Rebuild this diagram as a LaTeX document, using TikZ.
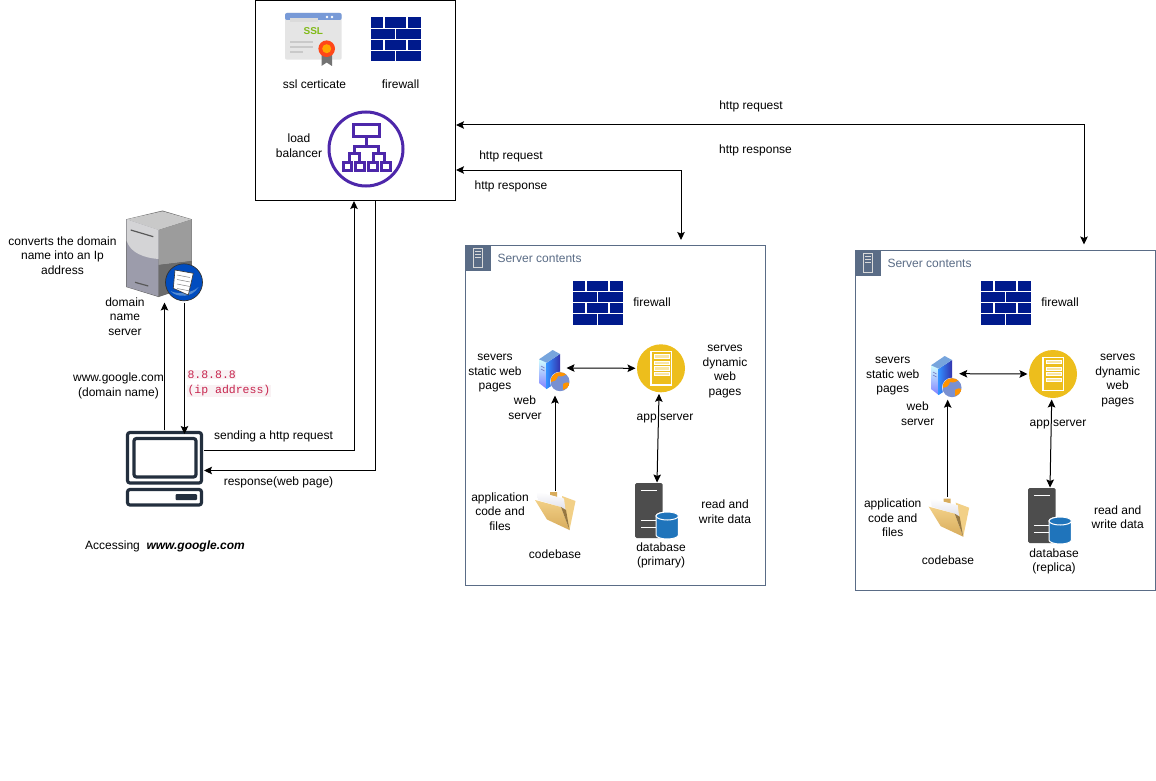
\documentclass[tikz,border=0pt]{standalone}
\usepackage{fontspec}
\usepackage{xcolor}
\usetikzlibrary{arrows.meta}
\setmainfont{Liberation Sans}
\newfontfamily\codefont{Liberation Mono}

\definecolor{groupblue}{HTML}{5A6C86}
\definecolor{wallblue}{HTML}{001A8C}
\definecolor{lbpurple}{HTML}{4D27AA}
\definecolor{appyellow}{HTML}{EDBE1C}
\definecolor{pcdark}{HTML}{232F3E}
\definecolor{dbgray}{HTML}{4D4D4D}
\definecolor{dbblue}{HTML}{1F74BB}
\definecolor{codered}{HTML}{C7254E}
\definecolor{codebg}{HTML}{F9F2F4}
\definecolor{folderlight}{HTML}{F2D087}
\definecolor{folderdark}{HTML}{D8AC5C}

\tikzset{
  lbl/.style={align=center, inner sep=0pt, font=\fontsize{12}{14.5}\selectfont},
  hitbox/.style 2 args={rectangle, inner sep=0pt, minimum width=#1, minimum height=#2},
  groupbox/.style={rectangle, draw=groupblue, fill=white, inner sep=0pt, minimum width=300pt, minimum height=340pt},
  grouptitle/.style={lbl, anchor=west, text=groupblue},
  appcircle/.style={circle, fill=appyellow, inner sep=0pt, minimum size=48pt, outer sep=1.5pt},
  lbline/.style={draw=lbpurple, line width=3pt},
  pcline/.style={draw=pcdark, line width=3.2pt, rounded corners=2.5pt},
  % firewall bricks
  pics/firewallicon/.style={code={
    \foreach \rowy in {0,22.4} {
      \fill[wallblue] (0,\rowy) rectangle (12.7,\rowy+10.4);
      \fill[wallblue] (14,\rowy) rectangle (35.7,\rowy+10.4);
      \fill[wallblue] (37,\rowy) rectangle (50.5,\rowy+10.4);
      \fill[wallblue] (0,\rowy+11.2) rectangle (24,\rowy+21.6);
      \fill[wallblue] (25.5,\rowy+11.2) rectangle (50.5,\rowy+21.6);
    }
  }},
  % certificate window
  pics/sslicon/.style={code={
    \fill[gray!20, rounded corners=2pt] (0,0) rectangle (56.7,46.7);
    \fill[cyan!45!blue!55!white, rounded corners=2pt] (0,0) rectangle (56.7,7);
    \fill[gray!28] (5,5) rectangle (33,9);
    \fill[white] (42,4) circle (1.4pt);
    \fill[white] (47,4) circle (1.4pt);
    \node[inner sep=0pt, text=green!45!black!55!yellow!90, font=\bfseries\fontsize{10}{12}\selectfont] (ssltext) at (28.3,18.5) {SSL};
    \foreach \liney/\lineend in {29/28,34/28,39/18}
      \draw[gray!42, line width=2pt] (5,\liney) -- (\lineend,\liney);
    \fill[black!55] (36.5,42) -- (36.5,53) -- (41.7,49.5) -- (47,53) -- (47,42) -- cycle;
    \fill[red!60!orange!90] (41.7,35.7) circle (8.3pt);
    \fill[orange!70!yellow] (41.7,35.7) circle (4.5pt);
  }},
  % tree in a ring
  pics/lbicon/.style={code={
    \draw[lbline] (0.3,0) circle (37pt);
    \draw[lbline] (-12.4,-24.7) rectangle (14,-12.7);
    \draw[lbline] (0.6,-12.7) -- (0.6,-3);
    \draw[lbline] (-11.7,4.3) -- (-11.7,-3) -- (13,-3) -- (13,4.3);
    \draw[lbline] (-16.7,12) -- (-16.7,4.3) -- (-6,4.3) -- (-6,12);
    \draw[lbline] (7.5,12) -- (7.5,4.3) -- (19,4.3) -- (19,12);
    \foreach \boxx in {-22.3,-10,3,16}
      \draw[lbline] (\boxx,13) rectangle (\boxx+8.5,21);
  }},
  % tower with document badge
  pics/dnsicon/.style={code={
    \fill[black!60] (36,-0.4) -- (65.4,8.3) -- (65.4,75) -- (32,86) -- (-0.4,76) -- (-0.4,8.3) -- cycle;
    \fill[blue!8!gray!72] (0,8.3) -- (32,19) -- (32,85.4) -- (0,75.7) -- cycle;
    \fill[gray!42] (0.2,8.3) -- (36,0.3) -- (65,8.5) -- (32,19) -- cycle;
    \fill[blue!3!gray!33] (0.2,8.3) -- (32,19) -- (32,48) .. controls (18,47) and (4,42) .. (0.2,30) -- cycle;
    \fill[gray!78] (32,19) -- (65,8.5) -- (65,50) -- (32,54) -- cycle;
    \fill[black!58] (32,54) -- (65,50) -- (65,75) -- (32,85.4) -- cycle;
    \draw[black!65, line width=1.2pt] (4.2,19) -- (26.8,25.7);
    \draw[black!65, line width=1.2pt] (8.5,71.3) -- (21.8,75);
    \draw[black!80, fill=blue!60!cyan!75!black, line width=0.7pt] (57.5,71.3) circle (18.5pt);
    \fill[cyan!50!blue!70!white] (44,80) .. controls (50,87) and (66,87) .. (72,76) .. controls (66,82) and (52,84) .. (44,80) -- cycle;
    \draw[black!80, fill=white, line width=0.6pt] (48.5,59) -- (66.8,62.3) -- (61.8,84) -- (46.8,77.3) -- cycle;
    \foreach \shifty in {0,4.5,9,13.5}
      \draw[gray, line width=0.5pt] (50.5,64+\shifty) -- (63.5,66.5+\shifty);
  }},
  % desktop computer
  pics/pcicon/.style={code={
    \draw[pcline] (1.5,1.5) rectangle (75.5,52);
    \draw[pcline] (8,7.5) rectangle (70,46);
    \draw[pcline] (1.5,58.5) rectangle (75.5,74);
    \fill[pcdark, rounded corners=1pt] (49.5,63) rectangle (71,69);
  }},
  % tower and globe
  pics/webicon/.style={code={
    \shade[top color=cyan!18!white, bottom color=blue!50!white] (0,9.3) -- (7.7,12.7) -- (7.7,39) -- (0,33) -- cycle;
    \shade[left color=blue!55!cyan!80, right color=blue!60!black!80] (7.7,12.7) -- (21,4) -- (21,30) -- (7.7,39) -- cycle;
    \fill[cyan!55!blue!55] (0,9.3) -- (13.7,0) -- (21,4) -- (7.7,12.7) -- cycle;
    \draw[blue!50!black!60, line width=0.5pt] (2,16) -- (5.5,18);
    \draw[blue!50!black!60, line width=0.5pt] (2,19) -- (5.5,21);
    \fill[white] (21,31.7) circle (10pt);
    \begin{scope}
      \clip (21,31.7) circle (9.5pt);
      \fill[cyan!35!blue!55] (11,21) rectangle (31,42);
      \fill[orange!85!yellow] (12,27) .. controls (15,21) and (24,20) .. (28,24) .. controls (25,26) and (23,27) .. (19,26) .. controls (18,30) and (15,32) .. (12,32) -- cycle;
      \fill[orange!85!yellow] (24,34) .. controls (27,32) and (29,32) .. (31,33) .. controls (29,38) and (27,39) .. (24,40) -- cycle;
    \end{scope}
  }},
  % white tower on the yellow circle
  pics/appicon/.style={code={
    \draw[white, line width=1.2pt] (-10,-16.7) rectangle (10.7,16.7);
    \foreach \bary in {-13.5,-7,-1.7,4}
      \draw[white, fill=appyellow!40!white, line width=0.8pt] (-7,\bary) rectangle (8,\bary+3.3);
  }},
  % open folder
  pics/foldericon/.style={code={
    \fill[folderdark] (25,12) -- (32,12) -- (32,17) -- (25,15) -- cycle;
    \fill[folderlight] (37,16) -- (50.5,21) -- (44.5,50) -- (40,30) -- cycle;
    \shade[top color=white, bottom color=blue!18!gray!35] (12,12) -- (39,18.5) -- (42,42) -- (36,27) -- (13,20) -- cycle;
    \shade[top color=folderlight, bottom color=folderdark] (10,20) -- (36,27) -- (44.5,50) -- (22,39.5) -- cycle;
    \fill[folderdark!70!black] (36,27) -- (44.5,50) -- (41,30) -- cycle;
  }},
  % server and cylinder
  pics/dbicon/.style={code={
    \fill[dbgray, rounded corners=1.5pt] (0,0) rectangle (27.5,55);
    \draw[white, line width=1.2pt] (6,7.7) -- (21.7,7.7);
    \draw[white, line width=1.2pt] (6,37.7) -- (21.7,37.7);
    \draw[white, line width=1.2pt] (6,44.3) -- (21.7,44.3);
    \draw[white, fill=dbblue, line width=1pt] (21,33) -- (21,52) arc[start angle=180, end angle=360, x radius=11.2pt, y radius=4pt] -- (43.4,33) arc[start angle=0, end angle=180, x radius=11.2pt, y radius=4pt];
    \draw[white, fill=dbblue, line width=1pt] (32.2,33) ellipse (11.2pt and 4pt);
  }},
  % header square of the group
  pics/groupicon/.style={code={
    \fill[groupblue] (0,0) rectangle (25,25);
    \draw[gray!30, line width=1pt] (8,3) rectangle (16.5,21.5);
    \foreach \bary in {6,9,12}
      \draw[gray!30, line width=0.8pt] (9.5,\bary) -- (15,\bary);
  }},
}

\begin{document}
\begin{tikzpicture}[x=1pt, y=-1pt, >={Stealth[length=8pt,width=7.5pt,inset=1.5pt]}, line width=1pt]

    \useasboundingbox (0,0) rectangle (1156,781);

    % Load balancer box
    \node[rectangle, draw, fill=white, inner sep=0pt, minimum width=200pt, minimum height=200pt] (lb) at (355.5,100.5) {};
    \pic at (285,13) {sslicon};
    \pic at (370.5,17.5) {firewallicon};
    \pic at (365.7,149) {lbicon};
    \node[lbl] (ssllabel) at (314.5,84) {ssl certicate};
    \node[lbl] (walllabel) at (400.5,84) {firewall};
    \node[lbl] (lblabel) at (299,145.5) {load\\balancer};

    % Client and name server
    \node[hitbox={78pt}{76pt}] (pc) at (164.5,468.5) {};
    \pic at (126,431) {pcicon};
    \node[hitbox={78pt}{92pt}] (dns) at (164.5,256) {};
    \pic at (126.5,211) {dnsicon};
    \node[lbl] (dnsnote) at (62.5,255.5) {converts the domain\\name into an Ip\\address};
    \node[lbl] (dnslabel) at (125,316.5) {domain\\name\\server};
    \node[lbl] (domainlabel) at (118.5,386) {www.google.com\\(domain name)};
    \node[anchor=west, align=left, inner sep=0pt, text=codered, font=\codefont\fontsize{11.5}{15}\selectfont] (iplabel) at (186.5,383.5)
      {\setlength{\fboxsep}{0.5pt}\colorbox{codebg}{8.8.8.8}\\\setlength{\fboxsep}{0.5pt}\colorbox{codebg}{(ip address)}};
    \node[lbl] (pclabel) at (165,546) {Accessing~ \textbf{\textit{www.google.com}}};
    \node[lbl] (sendlabel) at (273.5,436) {sending a http request};
    \node[lbl] (backlabel) at (278.5,482.5) {response(web page)};

    % First server group
    \node[groupbox] (groupA) at (615.5,415.5) {};
    \pic at (465.5,245.5) {groupicon};
    \node[grouptitle] (titleA) at (497,258) {Server contents};
    \pic at (572.5,280.5) {firewallicon};
    \node[lbl] (wallA) at (652,302) {firewall};
    \node[hitbox={22pt}{54pt}] (webA) at (555,368) {};
    \pic at (539,350) {webicon};
    \node[appcircle] (appA) at (661,368.3) {};
    \pic at (661,368.3) {appicon};
    \node[hitbox={42pt}{40pt}] (folderA) at (555,511) {};
    \pic at (525,480) {foldericon};
    \node[hitbox={44pt}{56pt}] (dbA) at (657,511) {};
    \pic at (635,483) {dbicon};
    \node[lbl] (staticA) at (495,373.5) {severs\\static web\\pages};
    \node[lbl] (weblabelA) at (525,407.5) {web\\server};
    \node[lbl] (applabelA) at (665,419) {app server};
    \node[lbl] (dynamicA) at (725,371.5) {serves\\dynamic\\web\\pages};
    \node[lbl] (codeA) at (500,511.5) {application\\code and\\files};
    \node[lbl] (foldlabelA) at (555,554) {codebase};
    \node[lbl] (dblabelA) at (661,555.5) {database\\(primary)};
    \node[lbl] (rwA) at (725,511.5) {read and\\write data};

    % Second server group
    \node[groupbox] (groupB) at (1005.5,420.5) {};
    \pic at (855.5,250.5) {groupicon};
    \node[grouptitle] (titleB) at (887,263.5) {Server contents};
    \pic at (980.5,280.5) {firewallicon};
    \node[lbl] (wallB) at (1060,302) {firewall};
    \node[hitbox={22pt}{51pt}] (webB) at (947.7,373.7) {};
    \pic at (931,356) {webicon};
    \node[appcircle] (appB) at (1053,374) {};
    \pic at (1053,374) {appicon};
    \node[hitbox={42pt}{40pt}] (folderB) at (947.7,517) {};
    \pic at (918.7,486.7) {foldericon};
    \node[hitbox={44pt}{56pt}] (dbB) at (1050,516) {};
    \pic at (1028,488) {dbicon};
    \node[lbl] (staticB) at (892.7,376.5) {severs\\static web\\pages};
    \node[lbl] (weblabelB) at (917.7,413.5) {web\\server};
    \node[lbl] (applabelB) at (1058,425) {app server};
    \node[lbl] (dynamicB) at (1117.7,380.5) {serves\\dynamic\\web\\pages};
    \node[lbl] (codeB) at (892.7,518) {application\\code and\\files};
    \node[lbl] (foldlabelB) at (948,560.5) {codebase};
    \node[lbl] (dblabelB) at (1054,561.5) {database\\(replica)};
    \node[lbl] (rwB) at (1117.7,517) {read and\\write data};

    % Labels of the long links
    \node[lbl] (reqA) at (511,156) {http request};
    \node[lbl] (respA) at (511,186) {http response};
    \node[lbl] (reqB) at (751,106) {http request};
    \node[lbl] (respB) at (755.5,150) {http response};

    % Draw all arrows
    \draw[->] (pc.north) -- (dns.south);
    \draw[->] ([xshift=20pt]dns.south) -- ([xshift=20pt,yshift=-4pt]pc.north);
    \draw[->] ([yshift=18pt]pc.east) -| ([xshift=-1.5pt]lb.south);
    \draw[->] ([xshift=20pt]lb.south) |- ([yshift=-2pt]pc.east);
    \draw[<->] ([yshift=-69.5pt]lb.east) -| ([xshift=65.5pt,yshift=5pt]groupA.north);
    \draw[<->] ([yshift=-24.5pt]lb.east) -| ([xshift=78.5pt,yshift=5.5pt]groupB.north);
    \draw[<->] (webA.east) -- (appA.west);
    \draw[->] (folderA.north) -- (webA.south);
    \draw[<->] ([xshift=-2pt]appA.south) -- (dbA.north);
    \draw[<->] (webB.east) -- (appB.west);
    \draw[->] (folderB.north) -- (webB.south);
    \draw[<->] ([xshift=-1.3pt]appB.south) -- (dbB.north);
\end{tikzpicture}
\end{document}
